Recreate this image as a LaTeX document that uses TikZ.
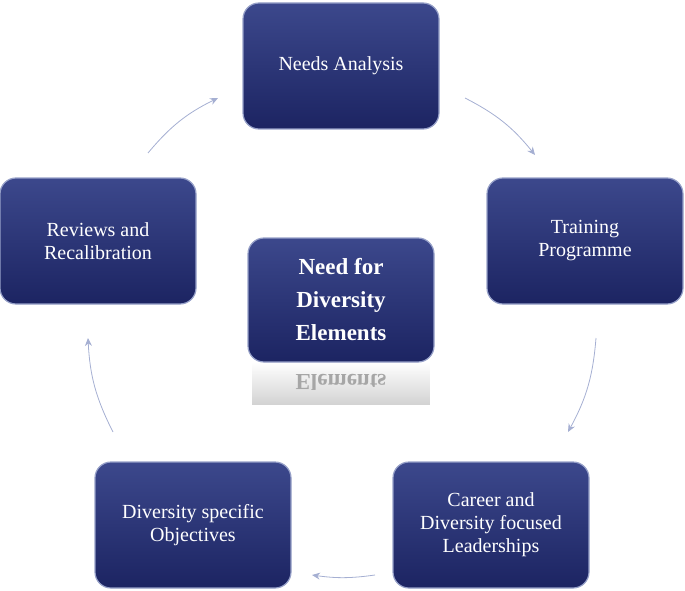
\documentclass[tikz,border=0pt]{standalone}
\usepackage{fontspec}
\setmainfont{Liberation Serif}
\usetikzlibrary{arrows.meta,fadings}
\definecolor{navy}{RGB}{28,36,98}
\definecolor{navyl}{RGB}{60,72,140}
\definecolor{edge}{RGB}{150,160,200}
\definecolor{arr}{RGB}{165,175,210}
\begin{document}
\begin{tikzpicture}[x=1pt,y=-1pt,
  box/.style={rounded corners=16pt,minimum width=196pt,minimum height=126pt,
    top color=navyl,bottom color=navy,draw=edge,line width=1.2pt,
    text=white,align=center,font=\fontsize{20}{23}\selectfont},
  cbox/.style={box,minimum width=186pt,minimum height=124pt,font=\bfseries\fontsize{23}{33}\selectfont},
  arrow/.style={draw=arr,line width=0.8pt,-{Stealth[length=8pt,width=7pt]}}]
\useasboundingbox (0,0) rectangle (685,591);
% reflection
\fill[gray!35,path fading=north] (252,362) rectangle (430,405);
\node[text=gray!70,font=\bfseries\fontsize{23}{28}\selectfont] (refl) at (341,382) {\scalebox{1}[-1]{Elements}};
\node[box] (na) at (341,66) {Needs Analysis};
\node[box] (tp) at (585,241) {Training\\Programme};
\node[box] (cd) at (491,525) {Career and\\Diversity focused\\Leaderships};
\node[box] (ds) at (193,525) {Diversity specific\\Objectives};
\node[box] (rr) at (98,241) {Reviews and\\Recalibration};
\node[cbox] (c) at (341,300) {Need for\\Diversity\\Elements};
\coordinate (a1) at (465,98); \coordinate (b1) at (535,155);
\coordinate (a2) at (596,338); \coordinate (b2) at (568,432);
\coordinate (a3) at (375,575); \coordinate (b3) at (312,575);
\coordinate (a4) at (113,432); \coordinate (b4) at (88,338);
\coordinate (a5) at (148,153); \coordinate (b5) at (218,98);
\draw[arrow] (a1) to[bend left=12] (b1);
\draw[arrow] (a2) to[bend left=12] (b2);
\draw[arrow] (a3) to[bend left=8] (b3);
\draw[arrow] (a4) to[bend left=12] (b4);
\draw[arrow] (a5) to[bend left=12] (b5);
\end{tikzpicture}
\end{document}
